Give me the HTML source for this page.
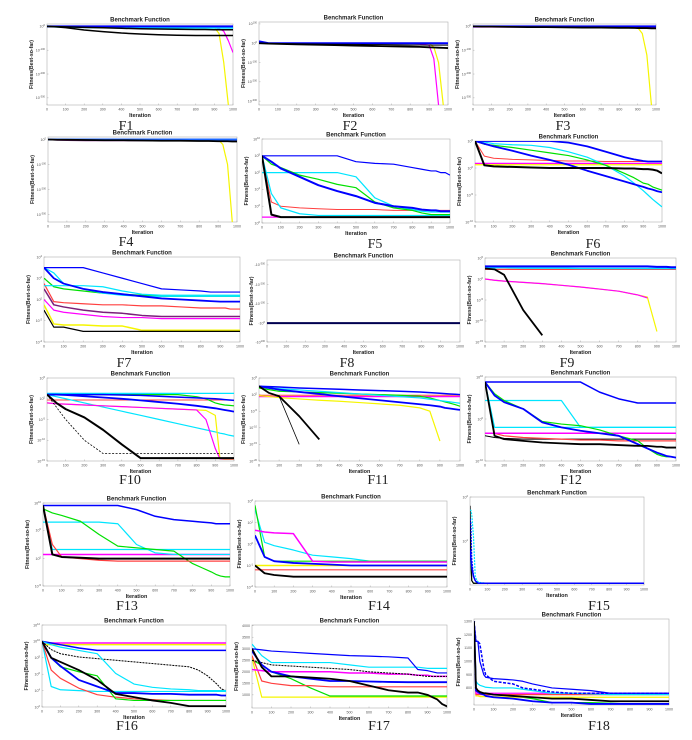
<!DOCTYPE html>
<html><head><meta charset="utf-8"><style>
html,body{margin:0;padding:0;background:#fff;}
svg{display:block;}
.t{font-family:"Liberation Sans",sans-serif;}
</style></head><body>
<svg id="fig" width="692" height="740" viewBox="0 0 692 740" xmlns="http://www.w3.org/2000/svg"></svg>
<script>
// ---- shared iteration grids ----
const xsA = [0,50,100,200,300,400,500,600,700,800,850,900,925,950,975,1000];
const xsB = [0,5,10,20,30,40,50,100,1000];
const xsC = [0,10,20,30,50,60,100,200,250,300,400,500,600,700,800,1000];
const xTicks = [0,100,200,300,400,500,600,700,800,900,1000];

// ---- F1 ----
const f1_blue = [0,0,0,0,0,0,0,0,0,0,0,0,0,0,0,0];
const f1_cyan = [0,-1,-2,-3,-4,-5,-5,-5,-5,-6,-6,-6,-6,-6,-6,-6];
const f1_black = [0,-2,-5,-15,-22,-28,-32,-35,-37,-38,-38,-38,-38,-38,-38,-38];
const f1_black2 = [0,-1,-2,-4,-6,-8,-10,-11,-12,-13,-13,-14,-14,-14,-14,-14];
const f1_magenta = [0,0,0,0,0,0,0,0,0,0,-2,-5,-10,-20,-60,-110];
const f1_yellow = [0,0,0,0,0,0,0,0,0,0,0,-5,-30,-150,-330,null];
const f1_yticks = [0,-100,-200,-300];
// ---- F2 ----
const f2_blue = [10,0,0,0,0,0,0,0,0,0,0,0,0,0,0,0];
const f2_black = [0,-2,-3,-6,-8,-10,-12,-14,-16,-18,-19,-21,-22,-23,-24,-25];
const f2_black2 = [0,-1,-2,-3,-4,-5,-6,-7,-8,-9,-9,-10,-10,-10,-10,-10];
const f2_magenta = [null,null,null,null,null,null,null,null,null,0,-2,-10,-80,-320,null,null];
const f2_yellow = [null,null,null,null,null,null,null,null,null,null,null,0,-20,-100,-320,null];
const f2_yticks = [100,0,-100,-200,-300];
// ---- F3 ----
const f3_blue = [0,0,0,0,0,0,0,0,0,0,0,0,0,0,0,0];
const f3_magenta = [-2,-2,-2,-2,-2,-2,-2,-2,-2,-2,-2,-2,-2,-2,-2,-2];
const f3_black = [0,-1,-1,-2,-3,-3,-4,-5,-5,-6,-6,-7,-7,-7,-8,-8];
const f3_yellow = [0,0,0,0,0,0,0,0,0,0,0,-5,-30,-120,-330,null];
const f3_yticks = [0,-100,-200,-300];
// ---- F4 ----
const f4_blue = [0,0,0,0,0,0,0,0,0,0,0,0,0,0,0,0];
const f4_purple = [0,-2,-3,-4,-4,-4,-4,-4,-4,-4,-4,-4,-4,-4,-4,-4];
const f4_black = [0,-1,-1,-2,-3,-3,-4,-5,-5,-6,-6,-7,-7,-7,-8,-8];
const f4_yellow = [0,0,0,0,0,0,0,0,0,0,0,0,-20,-100,-330,null];
const f4_yticks = [0,-100,-200,-300];
// ---- F5 ----
const f5_blueThin = [8,8,8,8,8,8,7.3,7.1,7,6.6,6.4,6.2,6.2,6,6,5.7];
const f5_blue = [8,7.3,6.5,5.5,4.5,3.8,3.2,2.4,2,1.8,1.6,1.5,1.5,1.4,1.4,1.4];
const f5_green = [8,7,6.6,5.7,5.2,4.6,4.2,2.5,1.8,1.5,1.2,1,1,1,1,1];
const f5_cyan = [6,6,6,6,6,6,5.5,3,2,1.6,1.4,1.3,1.3,1.3,1.3,1.3];
const f5_cyan2 = [8,3.5,1.8,1.1,0.9,0.9,0.9,0.9,0.9,0.9,0.9,0.9,0.9,0.9,0.9,0.9];
const f5_red = [8,2.5,2,1.8,1.7,1.6,1.6,1.6,1.5,1.5,1.5,1.5,1.5,1.5,1.5,1.5];
const f5_black = [8,1,0.7,0.7,0.7,0.7,0.7,0.7,0.7,0.7,0.7,0.7,0.7,0.7,0.7,0.7];
const f5_magenta = [0.7,0.7,0.7,0.7,0.7,0.7,0.7,0.7,0.7,0.7,0.7,0.7,0.7,0.7,0.7,0.7];
const f5_yticks = [10,8,6,4,2,0];
// ---- F6 ----
const f6_blueThin = [5,5,5,5,5,5,4.7,4,3,2,1.6,1.3,1.2,1.2,1.2,1.2];
const f6_blue = [5,4.5,4,3.2,2.3,1.5,0.6,-0.5,-1.5,-2.5,-3,-3.5,-3.8,-4,-4.3,-4.5];
const f6_green = [5,4.4,4.2,3.8,3.3,2.8,2.3,1.5,0.5,-1,-1.8,-2.8,-3,-3.5,-3.8,-4.1];
const f6_cyan = [5,4.8,4.5,4.3,4.2,3.8,3,2,0.5,-1.5,-2.8,-4.2,-5,-5.8,-6.5,-7.2];
const f6_red = [5,2.2,1.8,1.6,1.5,1.4,1.3,1.3,1.2,1.2,1.2,1.2,1.2,1.2,1.2,1.2];
const f6_magenta = [0.85,0.85,0.85,0.85,0.85,0.85,0.85,0.85,0.85,0.85,0.85,0.85,0.85,0.85,0.85,0.85];
const f6_yellow = [0.6,0.6,0.6,0.6,0.6,0.6,0.6,0.6,0.6,0.6,0.6,0.6,0.6,0.6,0.6,0.6];
const f6_black = [5,0.5,0.3,0.2,0.1,0,0,0,0,-0.1,-0.1,-0.2,-0.2,-0.3,-0.5,-1];
const f6_yticks = [5,0,-5,-10];
// ---- F7 ----
const f7_blueThin = [3,3,3,3,2.5,2,1.5,1,0.9,0.8,0.7,0.7,0.7,0.7,0.7,0.7];
const f7_cyan = [3,2.5,1.5,1,0.6,0.4,0.3,0.3,0.3,0.3,0.3,0.3,0.3,0.3,0.3,0.3];
const f7_cyan2 = [1.3,1.3,1.3,1.3,1.2,0.8,0.5,0.4,0.4,0.4,0.4,0.4,0.4,0.4,0.4,0.4];
const f7_blue = [3,2,1.5,1,0.7,0.5,0.3,0.1,0,-0.1,-0.15,-0.2,-0.2,-0.2,-0.2,-0.2];
const f7_green = [2,1.2,1,0.8,0.6,0.5,0.4,0.3,0.3,0.3,0.3,0.3,0.3,0.3,0.3,0.3];
const f7_red = [1.5,-0.2,-0.3,-0.4,-0.5,-0.5,-0.6,-0.6,-0.7,-0.8,-0.8,-0.8,-0.8,-0.9,-0.9,-0.9];
const f7_purple = [1,-0.5,-0.7,-1,-1.2,-1.3,-1.5,-1.6,-1.6,-1.6,-1.6,-1.6,-1.6,-1.6,-1.6,-1.6];
const f7_magenta = [0,-1,-1.2,-1.4,-1.6,-1.7,-1.7,-1.8,-1.8,-1.8,-1.8,-1.8,-1.8,-1.8,-1.8,-1.8];
const f7_yellow = [-0.5,-2.3,-2.4,-2.4,-2.5,-2.5,-2.9,-2.9,-2.9,-2.9,-2.9,-2.9,-2.9,-2.9,-2.9,-2.9];
const f7_black = [-1,-2.6,-2.6,-3,-3,-3,-3,-3,-3,-3,-3,-3,-3,-3,-3,-3];
const f7_yticks = [4,2,0,-2,-4];
// ---- F8 ----
const f8_navy = [0.23,0.23,0.23,0.23,0.23,0.23,0.23,0.23,0.23,0.23,0.23,0.23,0.23,0.23,0.23,0.23];
const f8_yticks = [0.94,0.7,0.47,0.23,0];
const f8_ylabels = ['-10^-300','-10^-200','-10^-100','-10^0','-10^100'];
// ---- F9 ----
const f9_blue = [3,3,3,3,3,3,3,3,3,3,3,2.9,2.9,2.9,2.8,2.8];
const f9_cyan = [2.7,2.7,2.7,2.6,2.6,2.6,2.5,2.5,2.5,2.5,2.5,2.5,2.5,2.5,2.5,2.5];
const f9_red = [2.3,2.3,2.3,2.3,2.3,2.3,2.3,2.3,2.3,2.3,2.3,2.3,2.3,2.3,2.3,2.3];
const f9_black = [2.5,2.3,1,-7.4,-13.4,null,null,null,null,null,null,null,null,null,null,null];
const f9_magenta = [0,-0.3,-0.5,-0.8,-1.1,-1.5,-1.9,-2.4,-2.9,-3.8,-4.5,null,null,null,null,null];
const f9_yellow = [0,-0.3,-0.5,-0.8,-1.1,-1.5,-1.9,-2.4,-2.9,-3.8,-4.3,-12.5,null,null,null,null];
const f9_yticks = [5,0,-5,-10,-15];
// ---- F10 ----
const f10_blueThin = [1,1,1,1,1,0.9,0.8,0.6,0.4,0.2,0.1,0,-0.1,-0.2,-0.3,-0.4];
const f10_blue = [1,1,0.9,0.6,0.3,0,-0.4,-0.8,-1.2,-1.7,-2,-2.3,-2.5,-2.7,-2.9,-3.1];
const f10_cyan = [1,0.5,0,-1,-2,-3,-4,-5,-6,-7,-7.5,-8,-8.3,-8.5,-8.8,-9];
const f10_cyan2 = [1.3,1.3,1.3,1.3,1.3,1.3,1.3,1.3,1.3,1.3,1.3,1.3,1.3,1.3,1.3,1.3];
const f10_green = [1,1,1,1,1,1,1,1,1,0.5,0,-1,-1.3,-1.5,-1.6,-1.7];
const f10_red = [-0.3,-0.3,-0.3,-0.3,-0.3,-0.3,-0.3,-0.3,-0.3,-0.3,-0.3,-0.3,-0.3,-0.3,-0.3,-0.3];
const f10_magenta = [-1,-1.2,-1.3,-1.5,-1.7,-1.9,-2.1,-2.3,-2.5,-2.7,-5,-12,-14.5,-14.5,-14.5,-14.5];
const f10_yellow = [-1,-1.2,-1.3,-1.5,-1.7,-1.9,-2.1,-2.3,-2.5,-2.7,-2.8,-4,-14.5,-14.6,-14.6,-14.6];
const f10_black = [1,-1,-2.5,-4.5,-7.5,-11,-14.3,-14.3,-14.3,-14.3,-14.3,-14.3,-14.3,-14.3,-14.3,-14.3];
const f10_blackDash = [1,-2,-5,-10,-13.2,-13.2,-13.2,-13.2,-13.2,-13.2,-13.2,-13.2,-13.2,-13.2,-13.2,-13.2];
const f10_yticks = [5,0,-5,-10,-15];
// ---- F11 ----
const f11_blueThin = [2.5,2.4,2.3,2,1.8,1.6,1.4,1.2,1,0.8,0.6,0.4,0.3,0.2,0.1,0];
const f11_blue = [2.5,2,1.5,0.8,0.2,-0.5,-1.1,-1.7,-2.3,-2.9,-3.2,-3.6,-4,-4.2,-4.4,-4.6];
const f11_cyan = [2.5,2,1.8,1.4,1,0.6,0.2,-0.2,-0.6,-1,-1.4,-1.8,-2,-2.2,-2.4,-2.6];
const f11_green = [2,1.5,1,0.8,0.6,0.4,0.2,0,-0.2,-0.5,-1,-1.8,-2.2,-2.6,-3,-3.5];
const f11_magenta = [-0.6,-0.6,-0.6,-0.6,-0.6,-0.6,-0.6,-0.6,-0.6,-0.6,-0.6,-0.6,-0.6,-0.6,-0.6,-0.6];
const f11_red = [-0.2,-0.2,-0.2,-0.2,-0.2,-0.2,-0.2,-0.2,-0.2,-0.2,-0.2,-0.2,-0.2,-0.2,-0.2,-0.2];
const f11_yellow = [-0.3,-0.6,-0.9,-1.3,-1.7,-2,-2.4,-2.8,-3.2,-4,-5,-14,null,null,null,null];
const f11_black = [2.5,0.5,-0.5,-6.5,-13.5,null,null,null,null,null,null,null,null,null,null,null];
const f11_black2 = [2.5,0.5,-0.5,-15,null,null,null,null,null,null,null,null,null,null,null,null];
const f11_yticks = [5,0,-5,-10,-15,-20];
// ---- F12 ----
const f12_blueThin = [0.94,0.94,0.94,0.94,0.94,0.94,0.94,0.82,0.74,0.69,0.69,0.69,0.69,0.69,0.69,0.69];
const f12_blue = [0.94,0.78,0.7,0.62,0.46,0.4,0.36,0.33,0.3,0.2,0.15,0.1,0.08,0.06,0.05,0.04];
const f12_green = [0.94,0.8,0.72,0.62,0.47,0.44,0.42,0.37,0.3,0.24,0.15,0.08,0.06,0.05,0.05,0.04];
const f12_cyan = [0.72,0.72,0.72,0.72,0.72,0.72,0.4,0.4,0.4,0.4,0.4,0.4,0.4,0.4,0.4,0.4];
const f12_cyan2 = [0.94,0.4,0.4,0.4,0.4,0.4,0.4,0.4,0.4,0.4,0.4,0.4,0.4,0.4,0.4,0.4];
const f12_magenta = [0.33,0.33,0.33,0.33,0.33,0.33,0.33,0.33,0.33,0.33,0.33,0.33,0.33,0.33,0.33,0.33];
const f12_red = [0.94,0.33,0.3,0.28,0.27,0.26,0.25,0.25,0.24,0.24,0.24,0.24,0.24,0.24,0.24,0.24];
const f12_black = [0.94,0.3,0.26,0.24,0.22,0.21,0.2,0.2,0.19,0.18,0.18,0.17,0.17,0.16,0.16,0.16];
const f12_black2 = [0.3,0.28,0.27,0.26,0.26,0.26,0.26,0.26,0.26,0.26,0.26,0.26,0.26,0.26,0.26,0.26];
const f12_yticks = [1,0.5,0];
const f12_ylabels = ['10^10','10^0','10^-10'];
// ---- F13 ----
const f13_blueThin = [0.97,0.97,0.97,0.97,0.97,0.97,0.92,0.84,0.8,0.78,0.77,0.76,0.75,0.75,0.75,0.75];
const f13_cyan = [0.97,0.44,0.44,0.44,0.44,0.44,0.44,0.44,0.44,0.44,0.44,0.44,0.44,0.44,0.44,0.44];
const f13_cyan2 = [0.77,0.77,0.77,0.77,0.77,0.75,0.5,0.4,0.38,0.38,0.38,0.38,0.38,0.38,0.38,0.38];
const f13_green = [0.93,0.88,0.85,0.78,0.62,0.48,0.46,0.44,0.42,0.27,0.22,0.17,0.14,0.12,0.11,0.11];
const f13_magenta = [0.38,0.38,0.38,0.38,0.38,0.38,0.38,0.38,0.38,0.38,0.38,0.38,0.38,0.38,0.38,0.38];
const f13_black = [0.97,0.38,0.35,0.34,0.33,0.33,0.33,0.33,0.33,0.33,0.33,0.33,0.33,0.33,0.33,0.33];
const f13_red = [0.97,0.5,0.35,0.33,0.31,0.3,0.3,0.3,0.3,0.3,0.3,0.3,0.3,0.3,0.3,0.3];
const f13_yticks = [1,0.67,0.33,0];
const f13_ylabels = ['10^10','10^5','10^0','10^-5'];
// ---- F14 ----
const f14_magenta = [0.66,0.64,0.63,0.62,0.3,0.29,0.29,0.29,0.29,0.29,0.29,0.29,0.29,0.29,0.29,0.29];
const f14_cyan = [0.9,0.52,0.48,0.43,0.37,0.35,0.33,0.3,0.3,0.3,0.3,0.3,0.3,0.3,0.3,0.3];
const f14_green = [0.95,0.35,0.3,0.3,0.3,0.3,0.3,0.3,0.3,0.3,0.3,0.3,0.3,0.3,0.3,0.3];
const f14_blue = [0.6,0.35,0.3,0.28,0.27,0.26,0.25,0.25,0.25,0.25,0.25,0.25,0.25,0.25,0.25,0.25];
const f14_yellow = [0.25,0.25,0.25,0.25,0.25,0.25,0.25,0.25,0.25,0.25,0.25,0.25,0.25,0.25,0.25,0.25];
const f14_red = [0.2,0.2,0.2,0.2,0.2,0.2,0.2,0.2,0.2,0.2,0.2,0.2,0.2,0.2,0.2,0.2];
const f14_black = [0.25,0.16,0.14,0.12,0.12,0.12,0.12,0.12,0.12,0.12,0.12,0.12,0.12,0.12,0.12,0.12];
const f14_yticks = [1,0.75,0.5,0.25,0];
const f14_ylabels = ['10^2','10^1','10^0','10^-1','10^-2'];
// ---- F15 ----
const f15_cyan = [0.85,0.85,0.8,0.55,0.1,0.05,0.03,0.02,0.02];
const f15_blueDash = [0.75,0.7,0.3,0.1,0.05,0.03,0.02,0.02,0.02];
const f15_blue = [0.4,0.3,0.2,0.1,0.05,0.03,0.02,0.02,0.02];
const f15_green = [0.5,0.2,0.05,0.02,0.02,0.02,0.02,0.02,0.02];
const f15_black = [0.9,0.3,0.05,0.02,0.02,0.02,0.02,0.02,0.02];
const f15_yticks = [1,0.5];
const f15_ylabels = ['10^2','10^1'];
// ---- F16 ----
const f16_magenta = [0.78,0.78,0.78,0.78,0.78,0.78,0.78,0.78,0.78,0.78,0.78,0.78,0.78,0.78,0.78,0.78];
const f16_yellow = [0.76,0.76,0.76,0.76,0.76,0.76,0.76,0.76,0.76,0.76,0.76,0.76,0.76,0.76,0.76,0.76];
const f16_blueThin = [0.8,0.78,0.76,0.72,0.69,0.69,0.69,0.69,0.69,0.69,0.69,0.69,0.69,0.69,0.69,0.69];
const f16_blackDash = [0.8,0.7,0.65,0.61,0.59,0.57,0.55,0.53,0.51,0.49,0.45,0.38,0.33,0.28,0.22,0.2];
const f16_cyan = [0.8,0.76,0.73,0.69,0.65,0.41,0.28,0.24,0.22,0.21,0.2,0.2,0.2,0.2,0.2,0.2];
const f16_black = [0.8,0.6,0.55,0.45,0.33,0.16,0.12,0.08,0.05,0.01,0.01,0.01,0.01,0.01,0.01,0.01];
const f16_blue = [0.8,0.6,0.5,0.33,0.25,0.17,0.17,0.16,0.16,0.15,0.15,0.15,0.15,0.15,0.14,0.14];
const f16_green = [0.8,0.6,0.49,0.43,0.38,0.1,0.08,0.08,0.08,0.08,0.08,0.08,0.08,0.08,0.08,0.08];
const f16_cyan2 = [0.8,0.25,0.21,0.2,0.19,0.19,0.19,0.19,0.19,0.19,0.19,0.19,0.19,0.19,0.19,0.19];
const f16_red = [0.8,0.45,0.35,0.23,0.15,0.12,0.1,0.09,0.08,0.08,0.08,0.08,0.08,0.08,0.08,0.08];
const f16_yticks = [1,0.8,0.6,0.4,0.2,0];
const f16_ylabels = ['10^12','10^10','10^8','10^6','10^4','10^2'];
// ---- F17 ----
const f17_blueThin = [3000,2950,2900,2850,2800,2750,2700,2680,2650,2600,2100,2050,2000,1950,1950,1950];
const f17_cyan = [3200,2700,2400,2400,2400,2400,2300,2200,2200,2200,2200,2150,2150,2150,2150,2150];
const f17_blackDash = [2500,2400,2300,2250,2200,2150,2100,2000,1950,1900,1850,1800,1800,1800,1800,1800];
const f17_magenta = [2100,2050,2000,2000,2000,2000,1950,1950,1900,1900,1850,1850,1800,1800,1800,1800];
const f17_blue = [2900,2300,2000,1800,1700,1600,1600,1580,1560,1550,1550,1550,1550,1550,1550,1550];
const f17_red = [2700,1600,1500,1400,1400,1350,1350,1350,1350,1350,1350,1350,1350,1350,1350,1350];
const f17_green = [2500,2300,2000,1700,1300,950,950,950,950,950,950,950,950,950,950,950];
const f17_yellow = [2600,900,900,900,900,900,900,900,900,900,900,900,900,900,900,900];
const f17_black = [3000,2200,1800,1800,1750,1700,1600,1400,1200,1100,1100,1000,900,800,600,500];
const f17_yticks = [1000,1500,2000,2500,3000,3500,4000];
// ---- F18 ----
const f18_blueDash = [1300,1150,1150,1130,950,900,850,830,800,790,770,760,760,760,760,760];
const f18_blueThin = [1300,1150,1150,1000,900,880,870,860,850,830,800,790,780,760,760,760];
const f18_cyan = [1300,850,830,820,810,805,800,800,790,780,760,760,755,750,750,750];
const f18_magenta = [1300,760,760,760,760,760,760,760,760,760,760,760,760,760,760,760];
const f18_red = [1300,750,750,750,750,750,750,750,750,750,750,750,750,750,750,750];
const f18_yellow = [1300,740,740,735,735,735,735,730,730,730,730,730,730,730,730,730];
const f18_black = [1300,800,780,770,760,760,750,740,735,730,720,720,710,700,700,700];
const f18_green = [1300,790,780,770,760,760,750,740,730,720,690,690,690,685,680,680];
const f18_blue = [1300,780,770,760,750,740,730,720,710,700,690,690,680,680,680,680];
const f18_yticks = [800,900,1000,1100,1200,1300];

// ---- styles / layout (not data) ----
const C = {b:'#0000ff',c:'#00e5ff',g:'#00e000',r:'#ff4040',m:'#ff00ff',y:'#f5f500',k:'#000000',p:'#7a1f7a',n:'#000050'};
function S(name,vals,col,w,dash){return {name:name,vals:vals,col:col,w:w||1,dash:dash||null};}
const panels = [
 {id:'F1',box:[47,24,233,105],yr:[-330,10],xs:xsA,yt:f1_yticks,log:true,lab:[126,125],series:[S('yellow',f1_yellow,C.y,1.2),S('magenta',f1_magenta,C.m,1.2),S('cyan',f1_cyan,C.c,2),S('blue',f1_blue,C.b,2),S('black2',f1_black2,C.k,1.5),S('black',f1_black,C.k,1.5)]},
 {id:'F2',box:[259,22,448,105],yr:[-320,110],xs:xsA,yt:f2_yticks,log:true,lab:[350,125],series:[S('magenta',f2_magenta,C.m,1.2),S('yellow',f2_yellow,C.y,1.2),S('blue',f2_blue,C.b,2),S('black2',f2_black2,C.k,1),S('black',f2_black,C.k,1.8)]},
 {id:'F3',box:[473,24,656,105],yr:[-330,10],xs:xsA,yt:f3_yticks,log:true,lab:[563,125],series:[S('yellow',f3_yellow,C.y,1.2),S('magenta',f3_magenta,C.m,1.5),S('blue',f3_blue,C.b,2),S('black',f3_black,C.k,1.8)]},
 {id:'F4',box:[48,137,237,222],yr:[-330,10],xs:xsA,yt:f4_yticks,log:true,lab:[126,241],series:[S('yellow',f4_yellow,C.y,1.2),S('purple',f4_purple,C.p,1.5),S('blue',f4_blue,'#1a66ff',2),S('black',f4_black,C.k,1.8)]},
 {id:'F5',box:[262,139,450,223],yr:[0,10],xs:xsA,yt:f5_yticks,log:true,lab:[375,243],series:[S('magenta',f5_magenta,C.m,1.2),S('red',f5_red,C.r,1),S('cyan2',f5_cyan2,C.c,1.2),S('cyan',f5_cyan,C.c,1.2),S('green',f5_green,C.g,1.2),S('blue-thin',f5_blueThin,C.b,1.2),S('blue',f5_blue,C.b,2),S('black',f5_black,C.k,2)]},
 {id:'F6',box:[475,141,662,222],yr:[-10,5],xs:xsA,yt:f6_yticks,log:true,lab:[593,243],series:[S('yellow',f6_yellow,C.y,1.2),S('magenta',f6_magenta,C.m,1.2),S('red',f6_red,C.r,1),S('cyan',f6_cyan,C.c,1.2),S('green',f6_green,C.g,1.2),S('blue-thin',f6_blueThin,C.b,1.8),S('blue',f6_blue,C.b,1.8),S('black',f6_black,C.k,2)]},
 {id:'F7',box:[44,257,240,342],yr:[-4,4],xs:xsA,yt:f7_yticks,log:true,lab:[124,362],series:[S('yellow',f7_yellow,C.y,1.5),S('black',f7_black,C.k,1.2),S('magenta',f7_magenta,C.m,1.2),S('purple',f7_purple,C.p,1.5),S('red',f7_red,C.r,1.2),S('green',f7_green,C.g,1.2),S('cyan2',f7_cyan2,C.c,1.2),S('cyan',f7_cyan,C.c,1.2),S('blue',f7_blue,C.b,1.8),S('blue-thin',f7_blueThin,C.b,1.2)]},
 {id:'F8',box:[267,260,460,342],yr:[0,1],xs:xsA,yt:f8_yticks,yl:f8_ylabels,log:false,lab:[347,362],series:[S('navy',f8_navy,C.n,2)]},
 {id:'F9',box:[485,258,676,342],yr:[-15,5],xs:xsA,yt:f9_yticks,log:true,lab:[567,362],series:[S('red',f9_red,C.r,1.2),S('cyan',f9_cyan,C.c,1.5),S('blue',f9_blue,C.b,2),S('yellow',f9_yellow,C.y,1.2),S('magenta',f9_magenta,C.m,1.2),S('black',f9_black,C.k,1.8)]},
 {id:'F10',box:[47,378,234,461],yr:[-15,5],xs:xsA,yt:f10_yticks,log:true,lab:[130,479],series:[S('red',f10_red,C.r,1),S('cyan2',f10_cyan2,C.c,1.2),S('green',f10_green,C.g,1.2),S('cyan',f10_cyan,C.c,1.2),S('blue-thin',f10_blueThin,C.b,1.5),S('blue',f10_blue,C.b,1.8),S('yellow',f10_yellow,C.y,1.2),S('magenta',f10_magenta,C.m,1.2),S('black-dash',f10_blackDash,C.k,0.8,'2,1.5'),S('black',f10_black,C.k,2)]},
 {id:'F11',box:[259,378,460,461],yr:[-20,5],xs:xsA,yt:f11_yticks,log:true,lab:[378,479],series:[S('red',f11_red,C.r,1),S('magenta',f11_magenta,C.m,1.2),S('green',f11_green,C.g,1.2),S('cyan',f11_cyan,C.c,1.2),S('yellow',f11_yellow,C.y,1.2),S('blue-thin',f11_blueThin,C.b,1.5),S('blue',f11_blue,C.b,1.8),S('black2',f11_black2,C.k,0.8),S('black',f11_black,C.k,1.8)]},
 {id:'F12',box:[485,377,676,461],yr:[0,1],xs:xsA,yt:f12_yticks,yl:f12_ylabels,log:false,lab:[571,479],series:[S('black2',f12_black2,C.k,1),S('red',f12_red,C.r,1.2),S('magenta',f12_magenta,C.m,1.5),S('cyan',f12_cyan,C.c,1.2),S('cyan2',f12_cyan2,C.c,1.2),S('green',f12_green,C.g,1.2),S('blue-thin',f12_blueThin,C.b,1.5),S('blue',f12_blue,C.b,1.8),S('black',f12_black,C.k,1.8)]},
 {id:'F13',box:[43,503,230,586],yr:[0,1],xs:xsA,yt:f13_yticks,yl:f13_ylabels,log:false,lab:[127,605],series:[S('magenta',f13_magenta,C.m,1.5),S('cyan2',f13_cyan2,C.c,1.2),S('cyan',f13_cyan,C.c,1.2),S('green',f13_green,C.g,1.2),S('red',f13_red,C.r,1.2),S('blue-thin',f13_blueThin,C.b,1.5),S('black',f13_black,C.k,2)]},
 {id:'F14',box:[255,501,447,587],yr:[0,1],xs:xsA,yt:f14_yticks,yl:f14_ylabels,log:false,lab:[379,605],series:[S('cyan',f14_cyan,C.c,1.2),S('green',f14_green,C.g,1.2),S('magenta',f14_magenta,C.m,1.5),S('yellow',f14_yellow,C.y,1.5),S('red',f14_red,C.r,1.2),S('blue',f14_blue,C.b,1.8),S('black',f14_black,C.k,1.8)]},
 {id:'F15',box:[470,497,644,585],yr:[0,1],xs:xsB,yt:f15_yticks,yl:f15_ylabels,log:false,lab:[599,605],series:[S('green',f15_green,C.g,1),S('black',f15_black,C.k,1.2),S('cyan',f15_cyan,C.c,1.2,'2,1'),S('blue-dash',f15_blueDash,C.b,1.2,'2,1'),S('blue',f15_blue,C.b,1.5)]},
 {id:'F16',box:[42,625,226,707],yr:[0,1],xs:xsA,yt:f16_yticks,yl:f16_ylabels,log:false,lab:[127,725],series:[S('magenta',f16_magenta,C.m,1.5),S('yellow',f16_yellow,C.y,1.5),S('blue-thin',f16_blueThin,C.b,1.5),S('black-dash',f16_blackDash,C.k,1,'2,1'),S('cyan',f16_cyan,C.c,1.2),S('cyan2',f16_cyan2,C.c,1.2),S('red',f16_red,C.r,1.2),S('green',f16_green,C.g,1.2),S('blue',f16_blue,C.b,1.8),S('black',f16_black,C.k,1.8)]},
 {id:'F17',box:[252,625,447,708],yr:[430,4030],xs:xsA,yt:f17_yticks,log:false,lab:[379,725],series:[S('yellow',f17_yellow,C.y,1.2),S('green',f17_green,C.g,1.2),S('red',f17_red,C.r,1.2),S('magenta',f17_magenta,C.m,1.5),S('cyan',f17_cyan,C.c,1.2),S('black-dash',f17_blackDash,C.k,1,'2,1'),S('blue-thin',f17_blueThin,C.b,1.2),S('blue',f17_blue,C.b,1.8),S('black',f17_black,C.k,1.8)]},
 {id:'F18',box:[474,619,669,705],yr:[672,1317],xs:xsC,yt:f18_yticks,log:false,lab:[599,725],series:[S('green',f18_green,C.g,1.2),S('yellow',f18_yellow,C.y,1.2),S('red',f18_red,C.r,1.2),S('magenta',f18_magenta,C.m,1.2),S('cyan',f18_cyan,C.c,1.2),S('blue-thin',f18_blueThin,C.b,1.2),S('blue-dash',f18_blueDash,C.b,1.5,'3,1.5'),S('blue',f18_blue,C.b,1.8),S('black',f18_black,C.k,1.8)]}
];

const NS='http://www.w3.org/2000/svg';
const svg=document.getElementById('fig');
function mk(tag,parent){const e=document.createElementNS(NS,tag);parent.appendChild(e);return e;}

panels.forEach(function(p){
  const [x0,y0,x1,y1]=p.box;
  const xS=v=>x0+(v/1000)*(x1-x0);
  const yS=v=>y1-(v-p.yr[0])/(p.yr[1]-p.yr[0])*(y1-y0);
  const g=mk('g',svg);
  
  
  const clip=mk('clipPath',g); clip.setAttribute('id','clip'+p.id);
  const cr=mk('rect',clip); cr.setAttribute('x',x0);cr.setAttribute('y',y0);cr.setAttribute('width',x1-x0);cr.setAttribute('height',y1-y0);
  const bg=mk('rect',g);
  
  
  bg.setAttribute('x',x0);bg.setAttribute('y',y0);bg.setAttribute('width',x1-x0);bg.setAttribute('height',y1-y0);
  bg.setAttribute('fill','#fff');bg.setAttribute('stroke','#b0b0b0');bg.setAttribute('stroke-width','0.6');
  // x ticks
  xTicks.forEach(function(t){
    const X=xS(t);
    const tl=mk('line',g);tl.setAttribute('x1',X);tl.setAttribute('x2',X);tl.setAttribute('y1',y1);tl.setAttribute('y2',y1-1.5);tl.setAttribute('stroke','#999');tl.setAttribute('stroke-width','0.4');
    const tx=mk('text',g);
    
    
    tx.setAttribute('class','t');tx.setAttribute('x',X);tx.setAttribute('y',y1+5.5);tx.setAttribute('font-size','3.6');tx.setAttribute('fill','#555');tx.setAttribute('text-anchor','middle');tx.textContent=t;
  });
  // y ticks
  p.yt.forEach(function(t,i){
    const Y=yS(t);
    const tl=mk('line',g);tl.setAttribute('x1',x0);tl.setAttribute('x2',x0+1.5);tl.setAttribute('y1',Y);tl.setAttribute('y2',Y);tl.setAttribute('stroke','#999');tl.setAttribute('stroke-width','0.4');
    const tx=mk('text',g);
    
    
    tx.setAttribute('class','t');tx.setAttribute('x',x0-2);tx.setAttribute('y',Y+1.3);tx.setAttribute('font-size','3.6');tx.setAttribute('fill','#555');tx.setAttribute('text-anchor','end');
    let lab = p.yl ? p.yl[i] : (p.log ? '10^'+t : String(t));
    if(lab.indexOf('^')>=0){const parts=lab.split('^');tx.textContent=parts[0];const sp=mk('tspan',tx);sp.setAttribute('dy','-1.5');sp.setAttribute('font-size','2.6');sp.textContent=parts[1];}
    else tx.textContent=lab;
  });
  // series
  const sg=mk('g',g); sg.setAttribute('clip-path','url(#clip'+p.id+')');
  p.series.forEach(function(s){
    let d='',pen=false;
    s.vals.forEach(function(v,i){
      if(v===null||v===undefined){pen=false;return;}
      let Y=yS(v); Y=Math.max(y0-2,Math.min(y1+2,Y));
      d+=(pen?'L':'M')+xS(p.xs[i]).toFixed(2)+','+Y.toFixed(2)+' ';pen=true;
    });
    const pa=mk('path',sg);
    
    
    pa.setAttribute('d',d);pa.setAttribute('fill','none');pa.setAttribute('stroke',s.col);pa.setAttribute('stroke-width',s.w);
    pa.setAttribute('stroke-linejoin','round');
    if(s.dash)pa.setAttribute('stroke-dasharray',s.dash);
  });
  // title
  const ti=mk('text',g);
  
  
  ti.setAttribute('class','t');ti.setAttribute('x',(x0+x1)/2);ti.setAttribute('y',y0-2.5);ti.setAttribute('font-size','6');ti.setAttribute('font-weight','bold');ti.setAttribute('fill','#222');ti.setAttribute('text-anchor','middle');ti.textContent='Benchmark Function';
  const xl=mk('text',g);
  
  
  xl.setAttribute('class','t');xl.setAttribute('x',(x0+x1)/2);xl.setAttribute('y',y1+12);xl.setAttribute('font-size','5.5');xl.setAttribute('font-weight','bold');xl.setAttribute('fill','#222');xl.setAttribute('text-anchor','middle');xl.textContent='Iteration';
  const yl=mk('text',g);
  
  
  const yx=x0-14, yy=(y0+y1)/2;
  yl.setAttribute('class','t');yl.setAttribute('x',yx);yl.setAttribute('y',yy);yl.setAttribute('font-size','5.2');yl.setAttribute('font-weight','bold');yl.setAttribute('fill','#222');yl.setAttribute('text-anchor','middle');yl.setAttribute('transform','rotate(-90 '+yx+' '+yy+')');yl.textContent='Fitness(Best-so-far)';
  const pl=mk('text',svg);
  
  
  pl.setAttribute('x',p.lab[0]);pl.setAttribute('y',p.lab[1]+5);pl.setAttribute('font-size','14');pl.setAttribute('fill','#222');pl.setAttribute('text-anchor','middle');
  pl.setAttribute('font-family','"Liberation Serif", serif');pl.textContent=p.id;
});
</script>
</body></html>
